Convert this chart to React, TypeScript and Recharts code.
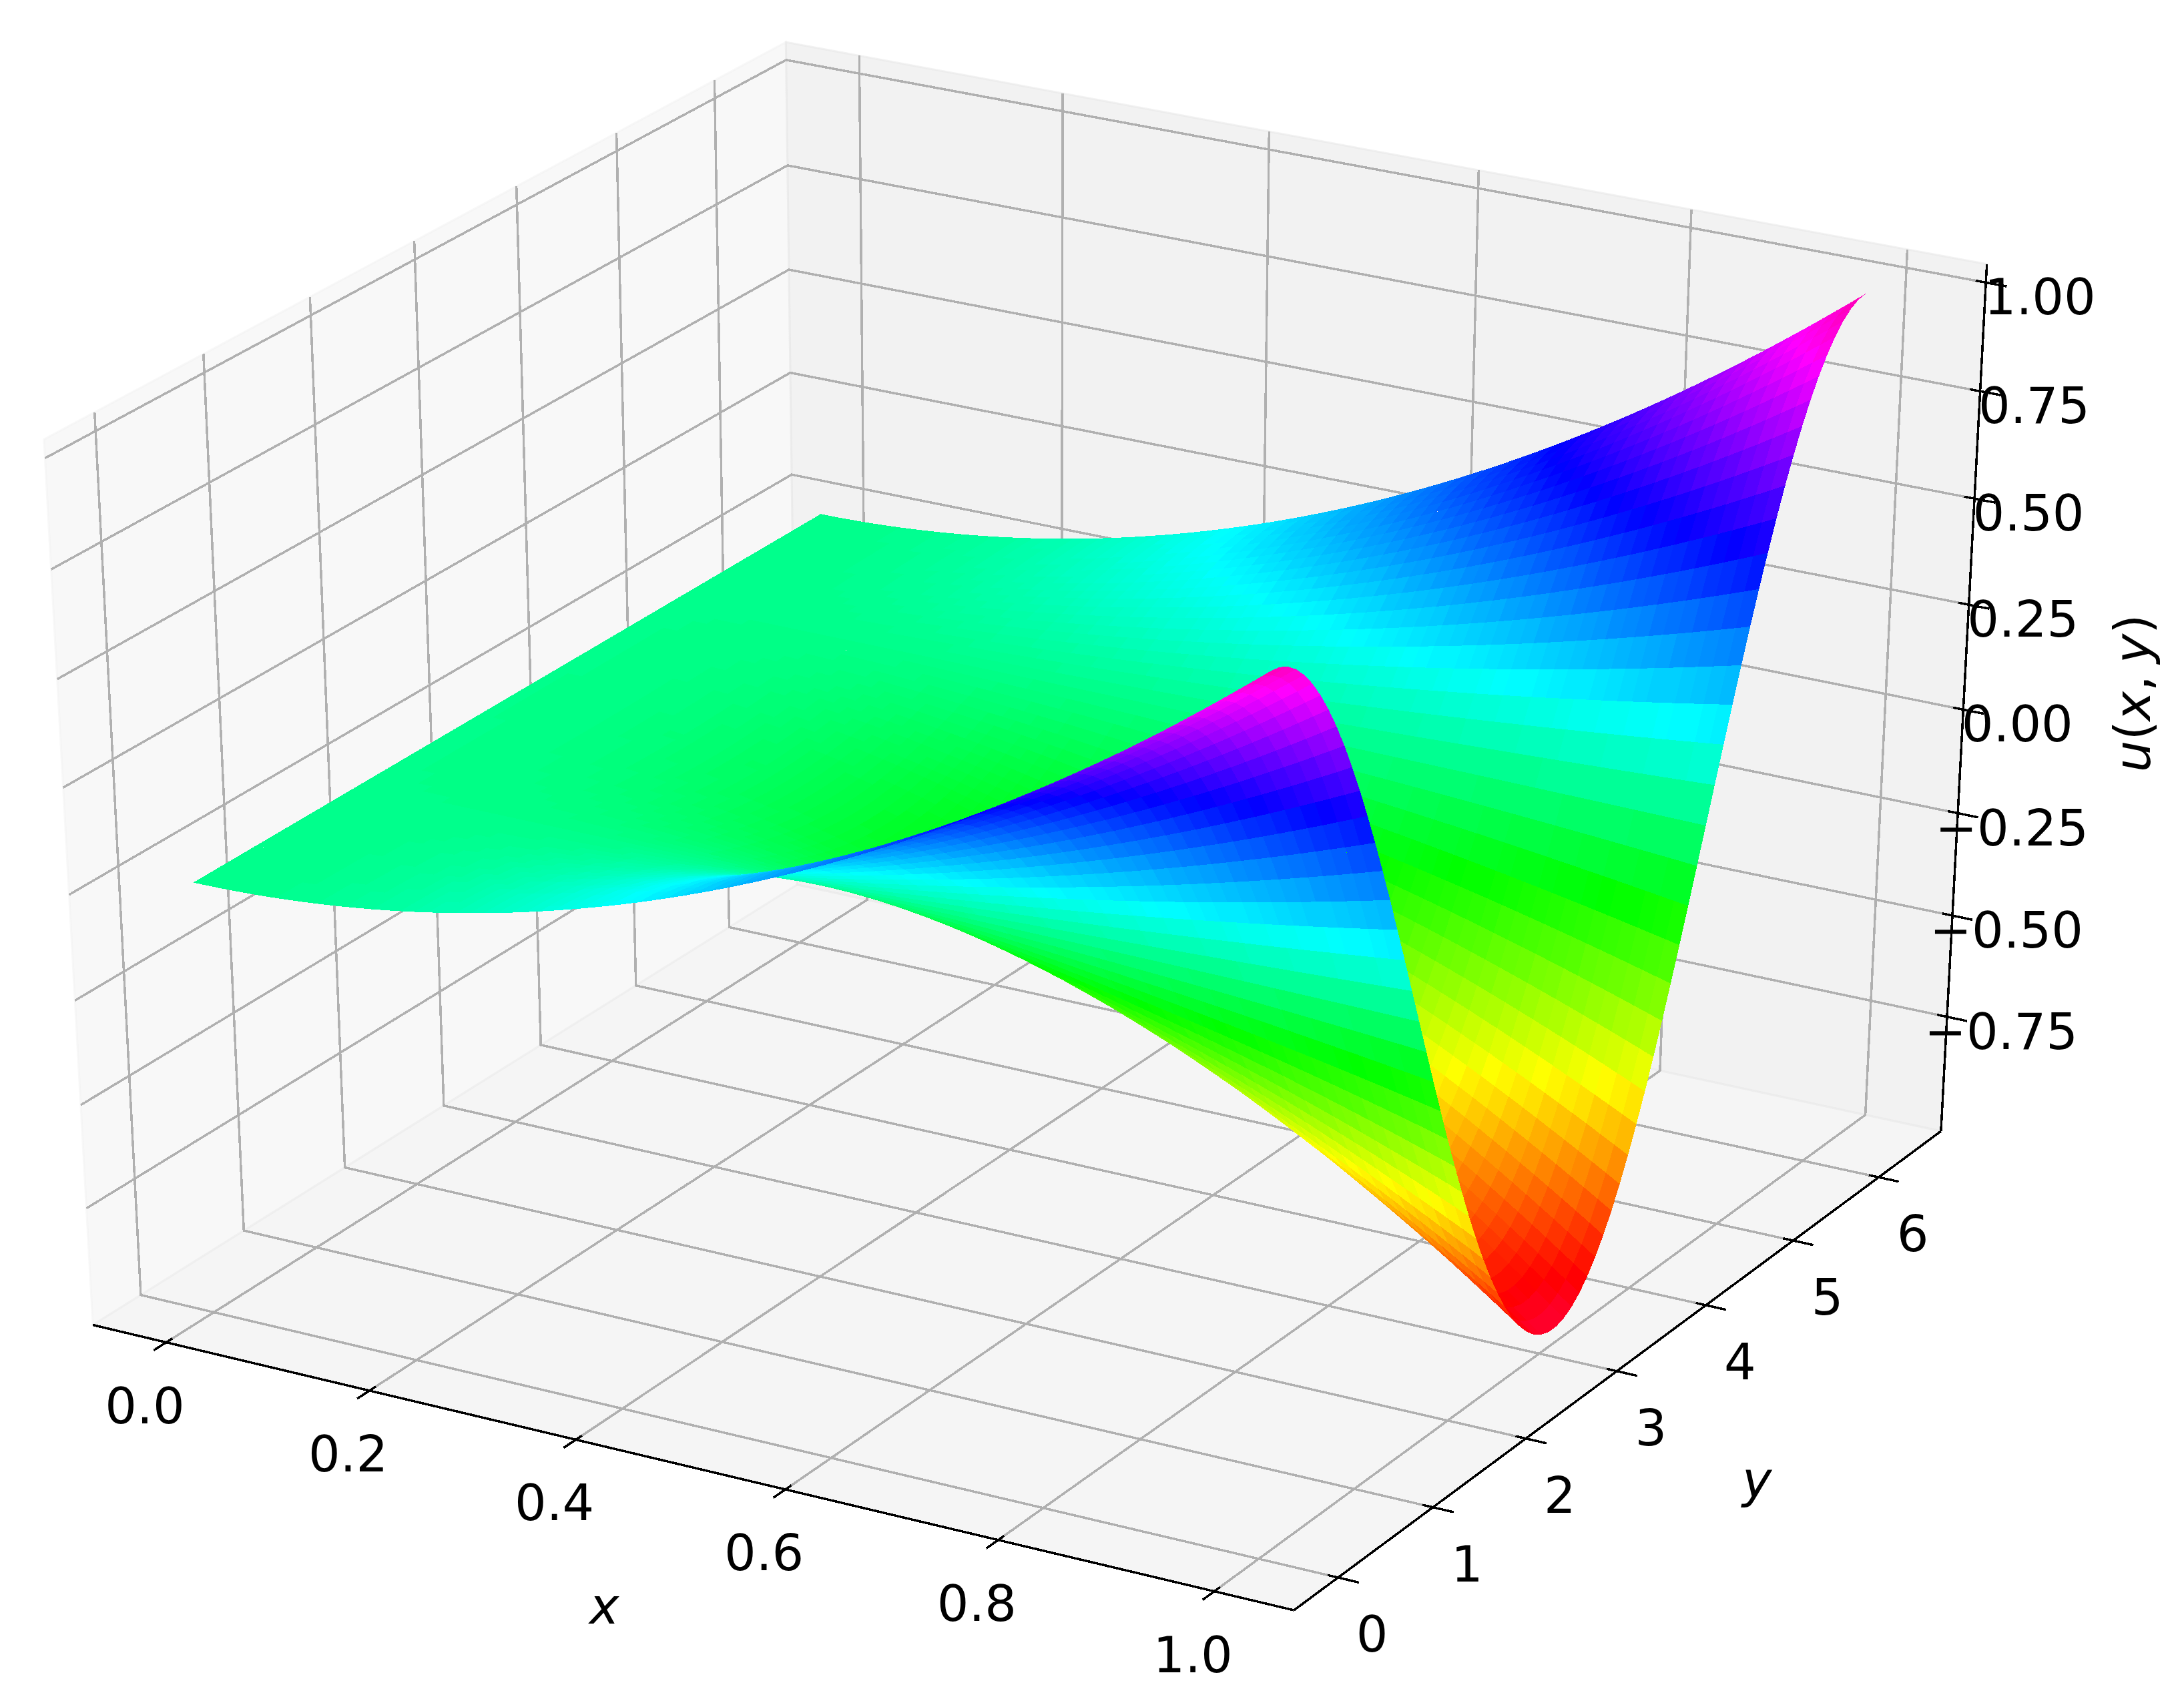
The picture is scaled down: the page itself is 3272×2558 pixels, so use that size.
import React from 'react';
import { ScatterChart, Scatter, XAxis, YAxis } from 'recharts';

// sampled profile across x (read along the y=0 edge)
const xValues = [0, .0133, .0267, .04, .0533, .0667, .08, .0933, .1067, .12, .1333, .1467, .16, .1733, .1867, .2, .2133, .2267, .24, .2533, .2667, .28, .2933, .3067, .32, .3333, .3467, .36, .3733, .3867, .4, .4133, .4267, .44, .4533, .4667, .48, .4933, .5067, .52, .5333, .5467, .56, .5733, .5867, .6, .6133, .6267, .64, .6533, .6667, .68, .6933, .7067, .72, .7333, .7467, .76, .7733, .7867, .8, .8133, .8267, .84, .8533, .8667, .88, .8933, .9067, .92, .9333, .9467, .96, .9733, .9867, 1];
const xProfile = [0, .0002, .0007, .0016, .0028, .0044, .0064, .0087, .0114, .0144, .0178, .0215, .0256, .03, .0348, .04, .0455, .0514, .0576, .0642, .0711, .0784, .086, .094, .1024, .1111, .1202, .1296, .1394, .1495, .16, .1708, .182, .1936, .2055, .2178, .2304, .2434, .2567, .2704, .2844, .2988, .3136, .3287, .3442, .36, .3762, .3927, .4096, .4268, .4444, .4624, .4807, .4994, .5184, .5378, .5575, .5776, .598, .6188, .64, .6615, .6834, .7056, .7282, .7511, .7744, .798, .822, .8464, .8711, .8962, .9216, .9474, .9735, 1];

// sampled profile across y (read along the x=1 edge)
const yValues = [0, .0838, .1676, .2513, .3351, .4189, .5027, .5864, .6702, .754, .8378, .9215, 1.0053, 1.0891, 1.1729, 1.2566, 1.3404, 1.4242, 1.508, 1.5917, 1.6755, 1.7593, 1.8431, 1.9268, 2.0106, 2.0944, 2.1782, 2.2619, 2.3457, 2.4295, 2.5133, 2.597, 2.6808, 2.7646, 2.8484, 2.9322, 3.0159, 3.0997, 3.1835, 3.2673, 3.351, 3.4348, 3.5186, 3.6024, 3.6861, 3.7699, 3.8537, 3.9375, 4.0212, 4.105, 4.1888, 4.2726, 4.3563, 4.4401, 4.5239, 4.6077, 4.6914, 4.7752, 4.859, 4.9428, 5.0265, 5.1103, 5.1941, 5.2779, 5.3617, 5.4454, 5.5292, 5.613, 5.6968, 5.7805, 5.8643, 5.9481, 6.0319, 6.1156, 6.1994, 6.2832];
const yProfile = [1, .9965, .986, .9686, .9444, .9135, .8763, .8329, .7837, .729, .6691, .6046, .5358, .4633, .3875, .309, .2284, .1461, .0628, -.0209, -.1045, -.1874, -.2689, -.3486, -.4258, -.5, -.5707, -.6374, -.6997, -.757, -.809, -.8554, -.8957, -.9298, -.9573, -.9781, -.9921, -.9991, -.9991, -.9921, -.9781, -.9573, -.9298, -.8957, -.8554, -.809, -.757, -.6997, -.6374, -.5707, -.5, -.4258, -.3486, -.2689, -.1874, -.1045, -.0209, .0628, .1461, .2284, .309, .3875, .4633, .5358, .6046, .6691, .729, .7837, .8329, .8763, .9135, .9444, .9686, .986, .9965, 1];

const xTicks = [0, 0.2, 0.4, 0.6, 0.8, 1];
const xTickLabels = ['0.0', '0.2', '0.4', '0.6', '0.8', '1.0'];
const yTicks = [0, 1, 2, 3, 4, 5, 6];
const yTickLabels = ['0', '1', '2', '3', '4', '5', '6'];
const zTicks = [-0.75, -0.5, -0.25, 0, 0.25, 0.5, 0.75, 1];
const zTickLabels = ['\u22120.75', '\u22120.50', '\u22120.25', '0.00', '0.25', '0.50', '0.75', '1.00'];

// gist_rainbow stops
const colorStops: [number, number, number, number][] = [
  [0, 1, 0, 0.16],
  [0.03, 1, 0, 0],
  [0.215, 1, 1, 0],
  [0.4, 0, 1, 0],
  [0.586, 0, 1, 1],
  [0.77, 0, 0, 1],
  [0.954, 1, 0, 1],
  [1, 1, 0, 0.75],
];

// box limits and camera
const X0 = -0.0729, X1 = 1.0729;
const Y0 = -0.458, Y1 = 6.741;
const Z0 = -1.036, Z1 = 1.042;
const ELEV = (30 * Math.PI) / 180;
const AZIM = (-60 * Math.PI) / 180;
const DIST = 10;

const W = 3272;
const H = 2558;
const FONT = '"DejaVu Sans"';
const FONT_SIZE = 75;

const n = [Math.cos(ELEV) * Math.cos(AZIM), Math.cos(ELEV) * Math.sin(AZIM), Math.sin(ELEV)];
const uLen = Math.hypot(n[1], n[0]);
const uv = [-n[1] / uLen, n[0] / uLen, 0];
const vv = [n[1] * uv[2] - n[2] * uv[1], n[2] * uv[0] - n[0] * uv[2], n[0] * uv[1] - n[1] * uv[0]];

function project(x: number, y: number, z: number) {
  const d = [(x - X0) / (X1 - X0) - 0.5, (y - Y0) / (Y1 - Y0) - 0.5, (z - Z0) / (Z1 - Z0) - 0.5];
  const dot = (a: number[]) => a[0] * d[0] + a[1] * d[1] + a[2] * d[2];
  const w = DIST - dot(n);
  return { px: dot(uv) / w, py: dot(vv) / w, w };
}

function colorFor(t: number) {
  const q = Math.min(255, Math.floor(t * 256)) / 255;
  let i = 0;
  while (i < colorStops.length - 2 && q > colorStops[i + 1][0]) i++;
  const a = colorStops[i];
  const b = colorStops[i + 1];
  const f = (q - a[0]) / (b[0] - a[0]);
  const c = [1, 2, 3].map(k => Math.round((a[k] + (b[k] - a[k]) * f) * 255));
  return `rgb(${c[0]},${c[1]},${c[2]})`;
}

type Group = { pts: number[][]; fill?: string; stroke?: string; sw?: number };

// facets of the surface, far ones first
const rawFacets: { corners: number[][]; avg: number; depth: number }[] = [];
for (let i = 0; i < xValues.length - 1; i++) {
  for (let j = 0; j < yValues.length - 1; j++) {
    const corners = [[i, j], [i + 1, j], [i + 1, j + 1], [i, j + 1]].map(([a, b]) => [xValues[a], yValues[b], xProfile[a] * yProfile[b]]);
    const avg = corners.reduce((s, c) => s + c[2], 0) / 4;
    const depth = corners.reduce((s, c) => s + project(c[0], c[1], c[2]).w, 0) / 4;
    rawFacets.push({ corners, avg, depth });
  }
}
rawFacets.sort((a, b) => b.depth - a.depth);
const uMin = Math.min(...rawFacets.map(f => f.avg));
const uMax = Math.max(...rawFacets.map(f => f.avg));
const facetGroups: Group[] = rawFacets.map(f => ({ pts: f.corners, fill: colorFor((f.avg - uMin) / (uMax - uMin)) }));

const paneGroups: Group[] = [
  { pts: [[X0, Y0, Z0], [X0, Y1, Z0], [X0, Y1, Z1], [X0, Y0, Z1]], fill: 'rgba(242,242,242,0.5)', stroke: 'rgba(242,242,242,0.5)', sw: 3 },
  { pts: [[X0, Y1, Z0], [X1, Y1, Z0], [X1, Y1, Z1], [X0, Y1, Z1]], fill: 'rgba(230,230,230,0.5)', stroke: 'rgba(230,230,230,0.5)', sw: 3 },
  { pts: [[X0, Y0, Z0], [X1, Y0, Z0], [X1, Y1, Z0], [X0, Y1, Z0]], fill: 'rgba(236,236,236,0.5)', stroke: 'rgba(236,236,236,0.5)', sw: 3 },
];

const GRID = '#b0b0b0';
const LINE_W = 3.5;
const gridGroups: Group[] = [
  ...xTicks.map(t => ({ pts: [[t, Y0, Z0], [t, Y1, Z0], [t, Y1, Z1]], stroke: GRID, sw: LINE_W })),
  ...yTicks.map(t => ({ pts: [[X1, t, Z0], [X0, t, Z0], [X0, t, Z1]], stroke: GRID, sw: LINE_W })),
  ...zTicks.map(t => ({ pts: [[X0, Y0, t], [X0, Y1, t], [X1, Y1, t]], stroke: GRID, sw: LINE_W })),
];

const dx = (X1 - X0) / 12;
const dy = (Y1 - Y0) / 12;
const axisGroups: Group[] = [
  { pts: [[X0, Y0, Z0], [X1, Y0, Z0]], stroke: '#000', sw: LINE_W },
  { pts: [[X1, Y0, Z0], [X1, Y1, Z0]], stroke: '#000', sw: LINE_W },
  { pts: [[X1, Y1, Z0], [X1, Y1, Z1]], stroke: '#000', sw: LINE_W },
  ...xTicks.map(t => ({ pts: [[t, Y0 + 0.1 * dy, Z0], [t, Y0 - 0.2 * dy, Z0]], stroke: '#000', sw: LINE_W })),
  ...yTicks.map(t => ({ pts: [[X1 - 0.1 * dx, t, Z0], [X1 + 0.2 * dx, t, Z0]], stroke: '#000', sw: LINE_W })),
  ...zTicks.map(t => ({ pts: [[X1 - 0.1 * dx, Y1, t], [X1 + 0.2 * dx, Y1, t]], stroke: '#000', sw: LINE_W })),
];

const toPoints = (groups: Group[]) =>
  groups.flatMap(g =>
    g.pts.map(p => {
      const q = project(p[0], p[1], p[2]);
      return { px: q.px, py: q.py };
    }),
  );

const polyRenderer = (groups: Group[], crisp = false) => (props: any) => {
  const pts = props.points as { x: number; y: number }[];
  let k = 0;
  return (
    <g>
      {groups.map((g, i) => {
        const m = g.pts.length;
        const s = pts.slice(k, k + m).map(p => `${p.x.toFixed(2)},${p.y.toFixed(2)}`).join(' ');
        k += m;
        if (g.fill) {
          return <polygon key={i} points={s} fill={g.fill} stroke={g.stroke ?? 'none'} strokeWidth={g.sw} shapeRendering={crisp ? 'crispEdges' : undefined} />;
        }
        return <polyline key={i} points={s} fill="none" stroke={g.stroke} strokeWidth={g.sw} strokeLinejoin="miter" shapeRendering="crispEdges" />;
      })}
    </g>
  );
};

const tickText = (wx: number, wy: number, wz: number, label: string, ox: number, oy: number) => {
  const q = project(wx, wy, wz);
  return { px: q.px, py: q.py, label, ox, oy };
};

const textPoints = [
  ...xTicks.map((t, i) => tickText(t, Y0, Z0, xTickLabels[i], -32, 95)),
  ...yTicks.map((t, i) => tickText(X1, t, Z0, yTickLabels[i], 51, 85)),
  ...zTicks.map((t, i) => tickText(X1, Y1, t, zTickLabels[i], 81, 22)),
];

const axisTitles = [
  tickText(0.5, Y0, Z0, 'x', -114, 212),
  tickText(X1, 3.14, Z0, 'y', 191, 177),
  tickText(X1, Y1, 0.02, 'u', 253, -12),
];

const noShape = () => <g />;

const textShape = (props: any) => {
  const p = props.payload;
  return (
    <text x={props.cx + p.ox} y={props.cy + p.oy} textAnchor="middle" dominantBaseline="central" fontFamily={FONT} fontSize={FONT_SIZE} fill="#000">
      {p.label}
    </text>
  );
};

const titleShape = (props: any) => {
  const p = props.payload;
  const x = props.cx + p.ox;
  const y = props.cy + p.oy;
  if (p.label === 'u') {
    return (
      <text transform={`translate(${x},${y}) rotate(-90)`} textAnchor="middle" dominantBaseline="central" fontFamily={FONT} fontSize={FONT_SIZE} fill="#000">
        <tspan fontStyle="italic">u</tspan>(<tspan fontStyle="italic">x</tspan>,<tspan fontStyle="italic" dx="18">y</tspan>)
      </text>
    );
  }
  return (
    <text x={x} y={y} textAnchor="middle" dominantBaseline="central" fontFamily={FONT} fontSize={FONT_SIZE} fontStyle="italic" fill="#000">
      {p.label}
    </text>
  );
};

export default function App() {
  return (
    <div style={{ position: 'absolute', left: 0, top: 0, width: W, height: H, background: '#fff' }}>
      <ScatterChart width={W} height={H} margin={{ top: 0, right: 0, bottom: 0, left: 0 }}>
        <XAxis type="number" dataKey="px" domain={[-0.07438, 0.08315]} allowDataOverflow hide />
        <YAxis type="number" dataKey="py" domain={[-0.08976, 0.07906]} allowDataOverflow hide />
        <Scatter data={toPoints(paneGroups)} shape={noShape} line={polyRenderer(paneGroups)} isAnimationActive={false} />
        <Scatter data={toPoints(gridGroups)} shape={noShape} line={polyRenderer(gridGroups)} isAnimationActive={false} />
        <Scatter data={toPoints(axisGroups)} shape={noShape} line={polyRenderer(axisGroups)} isAnimationActive={false} />
        <Scatter data={textPoints} shape={textShape} isAnimationActive={false} />
        <Scatter data={axisTitles} shape={titleShape} isAnimationActive={false} />
        <Scatter data={toPoints(facetGroups)} shape={noShape} line={polyRenderer(facetGroups, true)} isAnimationActive={false} />
      </ScatterChart>
    </div>
  );
}
